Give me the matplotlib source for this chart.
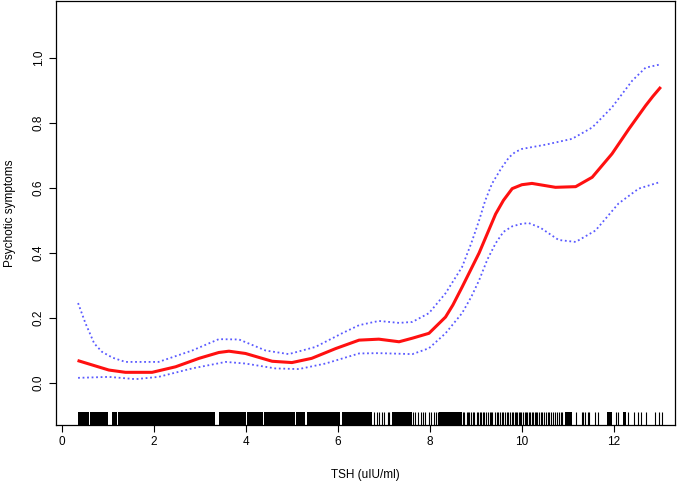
import matplotlib
matplotlib.use("Agg")
import matplotlib.pyplot as plt

plt.rcParams['font.family'] = ['Liberation Sans', 'DejaVu Sans']

# courbe ajustée (rouge) + IC 95% (bleu pointillé)
fit_x = [0.37, 1.02, 1.38, 1.96, 2.47, 2.98, 3.41, 3.63, 3.99, 4.57, 5.0, 5.43,
         5.95, 6.46, 6.89, 7.33, 7.62, 7.98, 8.34, 8.5, 8.7, 9.07, 9.43, 9.6, 9.79,
         10.0, 10.22, 10.73, 11.17, 11.53, 11.96, 12.33, 12.69, 12.85, 13.0]
fit_y = [0.068, 0.040, 0.033, 0.033, 0.050, 0.076, 0.094, 0.098, 0.091, 0.067, 0.063, 0.076,
         0.106, 0.132, 0.135, 0.127, 0.138, 0.153, 0.203, 0.240, 0.295, 0.400, 0.520, 0.562, 0.598,
         0.610, 0.614, 0.602, 0.604, 0.633, 0.705, 0.782, 0.853, 0.882, 0.907]

up_x = [0.35, 0.51, 0.6, 0.7, 0.87, 1.1, 1.38, 2.1, 2.83, 3.41, 3.85, 4.43, 4.93, 5.51,
        6.09, 6.46, 6.89, 7.33, 7.62, 7.98, 8.34, 8.7, 8.9, 9.07, 9.2, 9.35, 9.55, 9.72,
        9.85, 10.0, 10.51, 11.09, 11.53, 11.96, 12.4, 12.69, 12.98]
up_y = [0.246, 0.184, 0.155, 0.122, 0.096, 0.078, 0.065, 0.065, 0.100, 0.135, 0.134, 0.100,
        0.089, 0.111, 0.153, 0.178, 0.191, 0.185, 0.188, 0.215, 0.276, 0.357, 0.430, 0.500,
        0.560, 0.613, 0.660, 0.694, 0.710, 0.720, 0.733, 0.751, 0.786, 0.848, 0.930, 0.970, 0.979]

lo_x = [0.35, 1.02, 1.6, 2.1, 2.83, 3.56, 3.99, 4.64, 5.15, 5.73, 6.46, 6.89, 7.62,
        7.98, 8.34, 8.7, 8.9, 9.07, 9.25, 9.43, 9.6, 9.79, 10.0, 10.15, 10.4, 10.8,
        11.17, 11.6, 12.1, 12.54, 13.0]
lo_y = [0.016, 0.019, 0.012, 0.019, 0.045, 0.065, 0.060, 0.045, 0.043, 0.060, 0.091, 0.092,
        0.089, 0.107, 0.153, 0.215, 0.265, 0.316, 0.380, 0.430, 0.465, 0.482, 0.490, 0.492,
        0.478, 0.440, 0.434, 0.469, 0.552, 0.598, 0.618]

# rug : blocs noirs continus (début, fin) + traits isolés
rug_blocks = [(0.35, 0.58), (0.61, 1.01), (1.09, 1.19), (1.22, 3.33), (3.42, 4.00),
              (4.03, 4.37), (4.40, 5.06), (5.09, 5.29), (5.32, 6.05), (6.08, 6.74),
              (7.17, 7.61), (8.20, 8.70), (10.93, 11.08), (11.85, 11.96), (12.20, 12.27)]
rug_ticks = [6.78, 6.84, 6.90, 6.95, 7.00, 7.08, 7.12,
             7.64, 7.68, 7.75, 7.80, 7.86, 7.90, 7.97, 8.03, 8.08, 8.13, 8.17,
             8.72, 8.75, 8.80, 8.83, 8.86, 8.90, 8.93, 8.96, 9.02, 9.05, 9.08, 9.12,
             9.15, 9.18, 9.23, 9.26, 9.30, 9.33, 9.36, 9.42, 9.45, 9.48, 9.53, 9.56,
             9.58, 9.64, 9.67, 9.70, 9.75, 9.78, 9.81, 9.84, 9.87, 9.90, 9.93, 9.96,
             9.99, 10.02, 10.06, 10.09, 10.12, 10.15, 10.18, 10.21, 10.24, 10.28, 10.31,
             10.34, 10.38, 10.41, 10.44, 10.48, 10.53, 10.56, 10.60, 10.64, 10.68, 10.72,
             10.76, 10.81, 10.85, 10.88,
             11.18, 11.30, 11.34, 11.38, 11.43, 11.47, 11.60, 11.66, 12.04, 12.08,
             12.31, 12.44, 12.53, 12.60, 12.69, 12.89, 12.98, 13.04]

x_ticks = [0, 2, 4, 6, 8, 10, 12]
y_ticks = [0.0, 0.2, 0.4, 0.6, 0.8, 1.0]

fig = plt.figure(figsize=(6.85, 4.83), dpi=100)
ax = fig.add_axes([56 / 685, 58 / 483, (675 - 56) / 685, 482 / 483 - 58 / 483])

ax.plot(up_x, up_y, color="#5a5aff", lw=1.3, ls=(0, (1, 1.5)))
ax.plot(lo_x, lo_y, color="#5a5aff", lw=1.3, ls=(0, (1, 1.5)))
ax.plot(fit_x, fit_y, color="#ff1010", lw=2.2, solid_joinstyle="round")

ymin, ymax = -0.129, 1.175
rug_top = ymin + 0.04
ax.broken_barh([(a, b - a) for a, b in rug_blocks], (ymin, rug_top - ymin),
               facecolor="black", edgecolor="none")
ax.vlines(rug_ticks, ymin, rug_top, color="black", lw=0.8)

ax.set_xlim(-0.13, 13.33)
ax.set_ylim(ymin, ymax)
ax.set_xticks(x_ticks)
ax.set_xticklabels([str(t) for t in x_ticks])
ax.set_yticks(y_ticks)
ax.set_yticklabels([f"{t:.1f}" for t in y_ticks], rotation=90, va="center")
ax.tick_params(labelsize=8.5, length=5, width=0.8, pad=3)

for s in ax.spines.values():
    s.set_linewidth(0.9)

ax.set_xlabel("TSH (uIU/ml)", fontsize=8.5, labelpad=15)
ax.set_ylabel("Psychotic symptoms", fontsize=8.5, labelpad=12)

fig.savefig("out.png", dpi=100)
